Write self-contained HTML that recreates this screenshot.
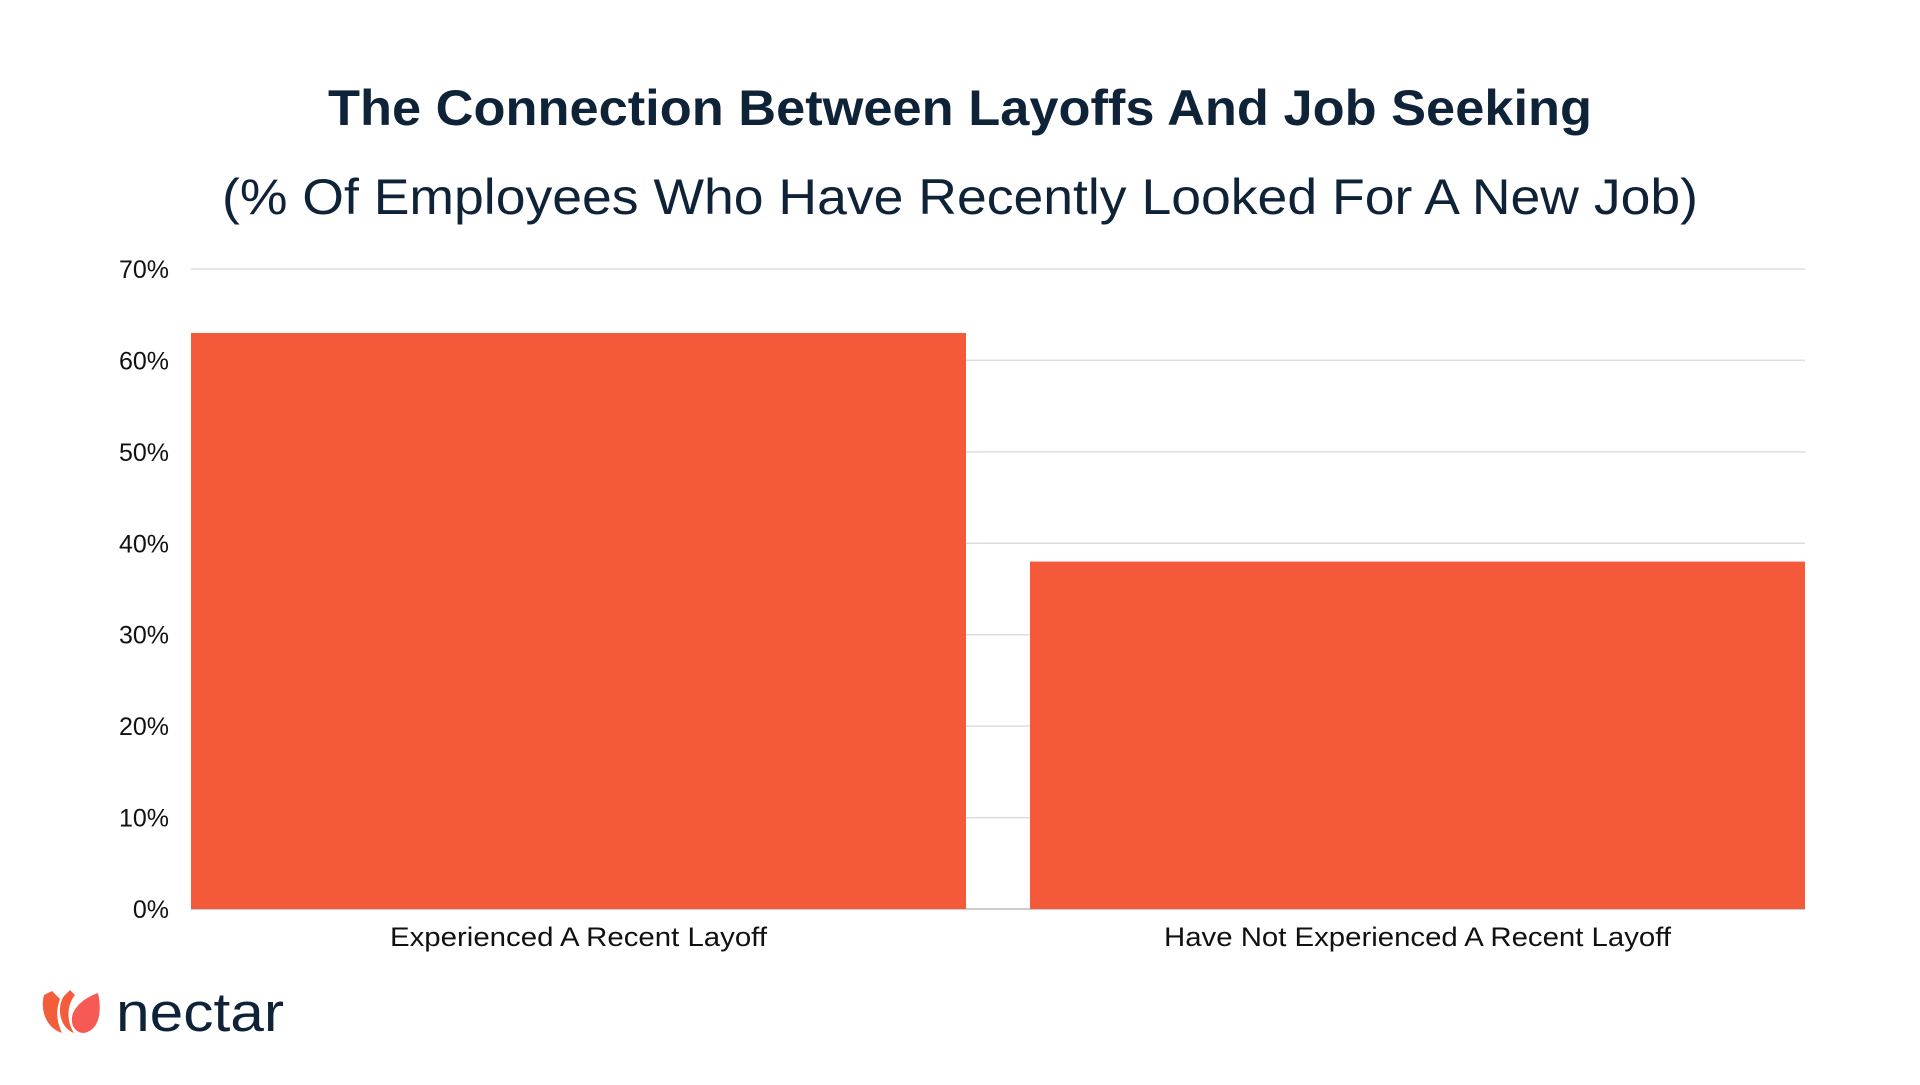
<!DOCTYPE html>
<html><head><meta charset="utf-8"><style>
body{margin:0;width:1920px;height:1080px;background:#fff;overflow:hidden;font-family:"Liberation Sans",sans-serif;}
</style></head><body>
<svg width="1920" height="1080" id="svg" xmlns="http://www.w3.org/2000/svg">
<text x="960" y="125" text-anchor="middle" font-size="50" font-weight="bold" fill="#0f2338" textLength="1264" lengthAdjust="spacingAndGlyphs">The Connection Between Layoffs And Job Seeking</text>
<text x="960" y="214" text-anchor="middle" font-size="50" fill="#0f2338" textLength="1476" lengthAdjust="spacingAndGlyphs">(% Of Employees Who Have Recently Looked For A New Job)</text>
<g id="grid"></g><g id="bars"></g><g id="labels"></g>
<g>
<path d="M52 991 L60 999 C56 1010 56 1020 62 1033 C46 1028 40 1010 44 995 Z" fill="#f45d3c"/>
<path d="M70 990 L75 995 C67 1005 66 1020 74 1033 C60 1028 56 1008 64 996 Z" fill="#f45d3c"/>
<path d="M98 993 C102 1010 100 1030 84 1033 C72 1033 68 1018 76 1008 C82 1000 90 996 98 993 Z" fill="#f75a55"/>
<text x="116" y="1031" font-size="55" fill="#0f2338" textLength="168" lengthAdjust="spacingAndGlyphs">nectar</text>
</g>
</svg>
<script>
const categories=["Experienced A Recent Layoff","Have Not Experienced A Recent Layoff"];
const values=[63,38];
const ticks=[0,10,20,30,40,50,60,70];
const tickLabels=["0%","10%","20%","30%","40%","50%","60%","70%"];
const NS="http://www.w3.org/2000/svg";
const L=191,R=1805,T=269,B=909,max=70;
const y=v=>B-(B-T)*v/max;
const band=(R-L)/categories.length, gap=64;
function mk(t,a,p){const e=document.createElementNS(NS,t);for(const k in a)e.setAttribute(k,a[k]);p.appendChild(e);return e;}
const g=document.getElementById('grid'),b=document.getElementById('bars'),lb=document.getElementById('labels');
ticks.forEach((t,i)=>{
 const ln=mk('line',{x1:L,x2:R,y1:y(t),y2:y(t),stroke:t===0?'#bbb':'#ddd','stroke-width':1.5},g);
 
 
 const tx=mk('text',{x:169,y:y(t)+9,'text-anchor':'end','font-size':25,fill:'#111'},lb);
 tx.textContent=tickLabels[i];
 
 
});
const catLen=[377,507];
categories.forEach((c,i)=>{
 const w=band-gap/2;
 const x0=i===0?L:L+band+gap/2;
 const r=mk('rect',{x:x0,y:y(values[i]),width:w,height:B-y(values[i]),fill:'#f45a3a'},b);
 
 
 const tx=mk('text',{x:x0+w/2,y:946,'text-anchor':'middle','font-size':27,fill:'#111',textLength:catLen[i],lengthAdjust:'spacingAndGlyphs'},lb);
 tx.textContent=c;
 
 
});
</script>
</body></html>
